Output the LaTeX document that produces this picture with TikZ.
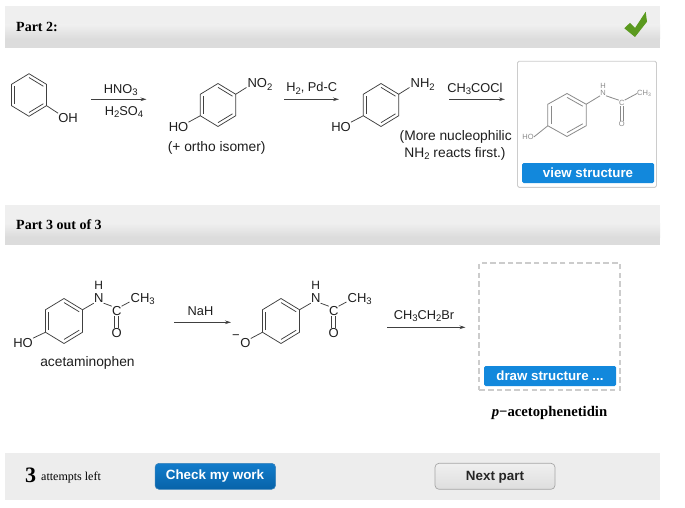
\documentclass[tikz,border=0pt]{standalone}
\usepackage{fontspec}
\setmainfont{Liberation Sans}
\newfontfamily\tnr{Liberation Serif}
\usetikzlibrary{arrows.meta,calc}
\definecolor{bondc}{HTML}{404040}
\definecolor{inkc}{HTML}{1E1E1E}
\definecolor{hdrtop}{HTML}{EFEFEF}
\definecolor{hdrbot}{HTML}{DCDCDC}
\definecolor{footc}{HTML}{EDEDED}
\definecolor{btnblue}{HTML}{1288DC}
\definecolor{chkTop}{HTML}{127CCB}
\definecolor{chkBot}{HTML}{0763A9}
\definecolor{greyl}{HTML}{CCCCCC}
\definecolor{tick}{HTML}{5B9A1F}
\definecolor{thumb}{HTML}{8A8A8A}
\newcommand{\fsz}[1]{\fontsize{#1}{#1}\selectfont}
\newcommand{\sbs}[1]{\raisebox{-2.6pt}{\fsz{9.5}#1}}
\newcommand{\sbt}[1]{\raisebox{-1.2pt}{\fsz{5}#1}}
\newcommand{\ringx}{.95}
% name, cx, cy, R, colour
\newcommand{\bring}[5]{%
  \coordinate (#1-c) at (#2,#3);
  \foreach \i/\a in {1/-90,2/-30,3/30,4/90,5/150,6/210}{
    \coordinate (#1-\i) at ({#2+\ringx*#4*cos(\a)},{#3+#4*sin(\a)});
  }
  \draw[bond,#5] (#1-1)--(#1-2)--(#1-3)--(#1-4)--(#1-5)--(#1-6)--cycle;
  \draw[bond,#5] ($(#1-c)!.82!(#1-1)$)--($(#1-c)!.82!(#1-2)$);
  \draw[bond,#5] ($(#1-c)!.82!(#1-3)$)--($(#1-c)!.82!(#1-4)$);
  \draw[bond,#5] ($(#1-c)!.82!(#1-5)$)--($(#1-c)!.82!(#1-6)$);
}
\tikzset{
  x=1pt,y=-1pt,
  bond/.style={draw=bondc,line width=.75pt,line join=miter},
  grey bond/.style={draw=thumb,line width=.8pt},
  chem/.style={inner sep=0pt,text=inkc,font=\fsz{12.8}},
  atom/.style={inner sep=0pt,text=inkc,font=\fsz{13}},
  caption/.style={inner sep=0pt,text=inkc,font=\fsz{13.8}},
  smallatom/.style={inner sep=0pt,text=thumb,font=\fsz{7.5}},
  rxn/.style={draw=bondc,line width=.8pt,-{Stealth[length=6pt,width=3.6pt]}},
  heading/.style={inner sep=0pt,anchor=west,text=black,font=\tnr\bfseries\fsz{14}},
  bluebtn/.style={fill=btnblue,rounded corners=1.5pt},
  btntext/.style={inner sep=0pt,text=white,font=\bfseries\fsz{13.3}},
  bondend/.style={shift={(-1,3)}},
}
\begin{document}
\begin{tikzpicture}
\useasboundingbox (0,0) rectangle (685,508);
\fill[white] (0,0) rectangle (685,508);
% header bands
\fill[hdrtop] (5,6) rectangle (660,25);
\shade[top color=hdrtop,bottom color=hdrbot,shading angle=0] (5,25) rectangle (660,39);
\fill[hdrbot] (5,39) rectangle (660,48);
\fill[hdrtop] (5,205) rectangle (660,223);
\shade[top color=hdrtop,bottom color=hdrbot] (5,223) rectangle (660,237);
\fill[hdrbot] (5,237) rectangle (660,245);
\fill[footc] (5,453) rectangle (660,500);
\node[heading] (part2) at (16,26.5) {Part 2:};
\node[heading] (part3) at (16,224.5) {Part 3 out of 3};
% check mark
\fill[tick] (624.3,28.3)--(630,22.8)--(635,28)--(645.7,11.7)--(647,21.7)--(635,37)--cycle;

% --- Part 2 scheme ---
\bring{a}{29}{95}{21.3}{}
\node[atom] (aoh) at (68,118) {OH};
\draw[bond] (a-3)--(aoh.north west);
\coordinate (r1s) at (91.3,99.3); \coordinate (r1e) at (146.5,99.3);
\draw[rxn] (r1s)--(r1e);
\node[chem] (hno) at (120.7,90) {HNO\sbs{3}};
\node[chem] (hso) at (124,112) {H\sbs{2}SO\sbs{4}};

\bring{b}{218}{105}{21.5}{}
\node[atom] (no2) at (260,84.5) {NO\sbs{2}};
\node[atom] (bho) at (178.5,127) {HO};
\draw[bond] (b-2)--([bondend]no2.west);
\draw[bond] (b-5)--(bho.north east);
\node[caption] (ortho) at (216.7,147.5) {(+ ortho isomer)};
\coordinate (r2s) at (284,99.3); \coordinate (r2e) at (339,99.3);
\draw[rxn] (r2s)--(r2e);
\node[chem] (h2pd) at (311.7,88.5) {H\sbs{2}, Pd-C};

\bring{c}{381}{105}{21.5}{}
\node[atom] (nh2) at (422.7,84.5) {NH\sbs{2}};
\node[atom] (cho) at (341,127) {HO};
\draw[bond] (c-2)--([bondend]nh2.west);
\draw[bond] (c-5)--(cho.north east);
\coordinate (r3s) at (449.3,99.3); \coordinate (r3e) at (505,99.3);
\draw[rxn] (r3s)--(r3e);
\node[chem] (accl) at (475,89) {CH\sbs{3}COCl};
\node[caption] (note1) at (455.7,137) {(More nucleophilic};
\node[caption] (note2) at (455,153.5) {NH\sbs{2} reacts first.)};

% answer box
\node[draw=greyl,line width=.9pt,rounded corners=1.5pt,minimum width=139pt,minimum height=126pt,inner sep=0pt] (vbox) at (587,124.3) {};
\renewcommand{\ringx}{1.03}
\bring{t}{567}{115}{21.5}{grey bond}
\renewcommand{\ringx}{.95}
\node[smallatom] (tho) at (528,137) {HO};
\node[smallatom] (tn) at (603,93) {N};
\node[smallatom] (th) at (603,85.5) {H};
\node[smallatom] (tc) at (621.7,103) {C};
\node[smallatom] (tch) at (644,93.5) {CH\sbt{3}};
\node[smallatom] (to) at (621.7,124.3) {O};
\draw[grey bond] (t-5)--(tho.east);
\draw[grey bond] (t-2)--(tn.south west);
\draw[grey bond] (tn.south east)--(tc.north west);
\draw[grey bond] (tc.north east)--(tch.west);
\draw[grey bond] ([xshift=-1.2pt]tc.south)--([xshift=-1.2pt]to.north);
\draw[grey bond] ([xshift=1.2pt]tc.south)--([xshift=1.2pt]to.north);
\node[bluebtn,minimum width=132pt,minimum height=20pt,inner sep=0pt] (vbtn) at (588,173) {};
\node[btntext] (vtxt) at (vbtn.center) {view structure};

% --- Part 3 scheme ---
\bring{d}{64}{321}{22.5}{}
\node[atom] (dho) at (23,343) {HO};
\node[atom] (dn) at (98.7,298.5) {N};
\node[atom,font=\fsz{12}] (dh) at (98.7,285.3) {H};
\node[atom] (dc) at (116.7,311) {C};
\node[atom] (dch) at (142.7,299) {CH\sbs{3}};
\node[atom] (do) at (116.7,333) {O};
\draw[bond] (d-5)--(dho.north east);
\draw[bond] (d-2)--(dn.south west);
\draw[bond] (dn.south east)--(dc.north west);
\draw[bond] (dc.north east)--([bondend]dch.west);
\draw[bond] ([xshift=-2pt]dc.south)--([xshift=-2pt]do.north);
\draw[bond] ([xshift=2pt]dc.south)--([xshift=2pt]do.north);
\node[caption] (acet) at (87.5,362.5) {acetaminophen};
\coordinate (r4s) at (174.3,322.3); \coordinate (r4e) at (231,322.3);
\draw[rxn] (r4s)--(r4e);
\node[chem] (nah) at (200.5,311.5) {NaH};

\bring{e}{281}{321}{22.5}{}
\node[atom] (eo) at (245.5,343.3) {O};
\node[atom,font=\fsz{13}] (em) at (236,337) {−};
\node[atom] (en) at (315.7,298.5) {N};
\node[atom,font=\fsz{12}] (eh) at (315.7,285.3) {H};
\node[atom] (ec) at (333.7,311) {C};
\node[atom] (ech) at (359.7,299) {CH\sbs{3}};
\node[atom] (eoo) at (333.7,333) {O};
\draw[bond] (e-5)--(eo.north east);
\draw[bond] (e-2)--(en.south west);
\draw[bond] (en.south east)--(ec.north west);
\draw[bond] (ec.north east)--([bondend]ech.west);
\draw[bond] ([xshift=-2pt]ec.south)--([xshift=-2pt]eoo.north);
\draw[bond] ([xshift=2pt]ec.south)--([xshift=2pt]eoo.north);
\coordinate (r5s) at (387,327.3); \coordinate (r5e) at (465.5,327.3);
\draw[rxn] (r5s)--(r5e);
\node[chem] (etbr) at (424,316) {CH\sbs{3}CH\sbs{2}Br};

\node[draw=greyl,line width=2pt,dash pattern=on 5.5pt off 3.2pt,minimum width=140.5pt,minimum height=127pt,inner sep=0pt] (dbox) at (549.6,326.4) {};
\node[bluebtn,minimum width=132pt,minimum height=20pt,inner sep=0pt] (dbtn) at (550,376) {};
\node[btntext] (dtxt) at (dbtn.center) {draw structure ...};
\node[inner sep=0pt,font=\tnr\bfseries\fsz{14.7}] (pac) at (549.5,413) {\textit{p}−acetophenetidin};

% --- footer ---
\node[inner sep=0pt,font=\tnr\bfseries\fsz{22}] (three) at (30.5,475) {3};
\node[inner sep=0pt,font=\tnr\fsz{12}] (att) at (71,477.5) {attempts left};
\node[draw=chkBot!80!white,line width=.6pt,rounded corners=4pt,top color=chkTop,bottom color=chkBot,minimum width=120.5pt,minimum height=26pt,inner sep=0pt] (chk) at (215.3,476.3) {};
\node[inner sep=0pt,text=white,font=\bfseries\fsz{13.4}] (chkt) at (215,476.5) {Check my work};
\node[draw=black!35,line width=.7pt,rounded corners=4pt,top color=black!6,bottom color=black!13,minimum width=120pt,minimum height=26pt,inner sep=0pt] (nxt) at (495,476.3) {};
\node[inner sep=0pt,text=black!85,font=\bfseries\fsz{13.4}] (nxtt) at (495,477) {Next part};
\end{tikzpicture}
\end{document}
